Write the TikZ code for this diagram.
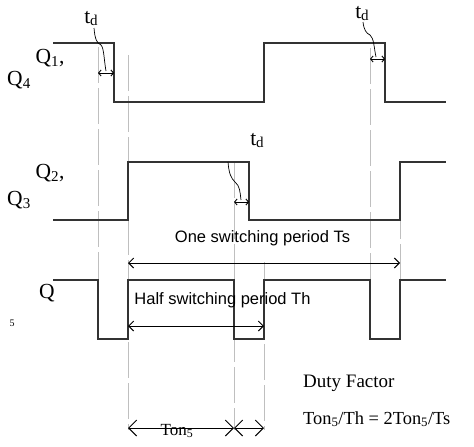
\documentclass[tikz,border=0pt]{standalone}
\usepackage{fontspec}
\setmainfont{Liberation Serif}
\newfontfamily\arialfont{Liberation Sans}
\usetikzlibrary{arrows.meta}

\newcommand{\tdlabel}{t{\fontsize{15}{15}\selectfont\raisebox{-2pt}{d}}}

\begin{document}
\begin{tikzpicture}[x=1pt,y=-1pt,
  wave/.style={line width=1.7pt,black!80},
  guide/.style={line width=0.8pt,black!25,dash pattern=on 36pt off 5pt},
  tdarrow/.style={line width=0.9pt,{Straight Barb[length=2.5pt,width=6pt]}-{Straight Barb[length=2.5pt,width=6pt]}},
  lead/.style={line width=0.7pt},
  period/.style={line width=1pt,{Straight Barb[length=5pt,width=10pt]}-{Straight Barb[length=5pt,width=10pt]}},
  tonarrow/.style={line width=1pt,{Straight Barb[length=8pt,width=16pt]}-{Straight Barb[length=8pt,width=16pt]}},
  qlabel/.style={font=\fontsize{21.5}{21.5}\selectfont,inner sep=0pt},
  slabel/.style={font=\arialfont\fontsize{16.5}{16.5}\selectfont,inner sep=0pt}
]
\useasboundingbox (0,0) rectangle (474,447);

\draw[guide] (98,47) -- (98,339);
\draw[guide] (128,55) -- (128,430);
\draw[guide] (234,162) -- (234,430);
\draw[guide] (264,262) -- (264,430);
\draw[guide] (370,48) -- (370,339);
\draw[guide] (400,162) -- (400,339);

\draw[wave] (53,43) -- (114,43) -- (114,102) -- (264,102) -- (264,43) -- (385,43) -- (385,102) -- (446,102);
\draw[wave] (53,220) -- (128,220) -- (128,162) -- (249,162) -- (249,220) -- (400,220) -- (400,162) -- (446,162);
\draw[wave] (53,280) -- (98,280) -- (98,339) -- (128,339) -- (128,280) -- (234,280) -- (234,339) -- (264,339) -- (264,280) -- (370,280) -- (370,339) -- (400,339) -- (400,280) -- (446,280);

\node[qlabel] (q1) at (50,58) {Q\textsubscript{1},};
\node[qlabel] (q4) at (19,80) {Q\textsubscript{4}};
\node[qlabel] (q2) at (50,173) {Q\textsubscript{2},};
\node[qlabel] (q3) at (19,200) {Q\textsubscript{3}};
\node[qlabel] (q) at (47,293) {Q};
\node[inner sep=0pt,font=\fontsize{10}{10}\selectfont] (five) at (12,323) {5};

\node[qlabel] (td1) at (91,19) {\tdlabel};
\node[qlabel] (td2) at (362,14) {\tdlabel};
\node[qlabel] (td3) at (257,141) {\tdlabel};

\coordinate (d1a) at (98,73);
\coordinate (d1b) at (114,73);
\coordinate (d2a) at (370,59);
\coordinate (d2b) at (385,59);
\coordinate (d3a) at (234,202);
\coordinate (d3b) at (249,202);
\draw[tdarrow] (d1a) -- (d1b);
\draw[tdarrow] (d2a) -- (d2b);
\draw[tdarrow] (d3a) -- (d3b);
\draw[lead] (94,28) .. controls (95,40) and (97,43) .. (101,45) .. controls (104,48) and (104,60) .. (106,71);
\draw[lead] (363,22) .. controls (364,30) and (366,33) .. (370,35) .. controls (374,38) and (374,48) .. (376,57);
\draw[lead] (228,162) .. controls (229,174) and (231,178) .. (235,182) .. controls (240,186) and (240,192) .. (241,200);

\coordinate (ts1) at (128,263);
\coordinate (ts2) at (400,263);
\coordinate (th1) at (128,326);
\coordinate (th2) at (264,326);
\coordinate (on1) at (128,428);
\coordinate (on2) at (234,428);
\coordinate (on3) at (264,428);
\draw[period] (ts1) -- (ts2);
\draw[period] (th1) -- (th2);
\draw[tonarrow] (on1) -- (on2);
\draw[tonarrow] (on2) -- (on3);

\node[slabel] (tslabel) at (262.5,238) {One switching period Ts};
\node[slabel] (thlabel) at (222.5,300) {Half switching period Th};
\node[inner sep=0pt,font=\fontsize{17}{17}\selectfont] (tonlabel) at (177,431) {Ton\textsubscript{5}};

\node[anchor=west,inner sep=0pt,font=\fontsize{19}{19}\selectfont] (duty) at (303,383) {Duty Factor};
\node[anchor=west,inner sep=0pt,font=\fontsize{18.4}{18.4}\selectfont] (ratio) at (303,419) {Ton\textsubscript{5}/Th = 2Ton\textsubscript{5}/Ts};
\end{tikzpicture}
\end{document}
